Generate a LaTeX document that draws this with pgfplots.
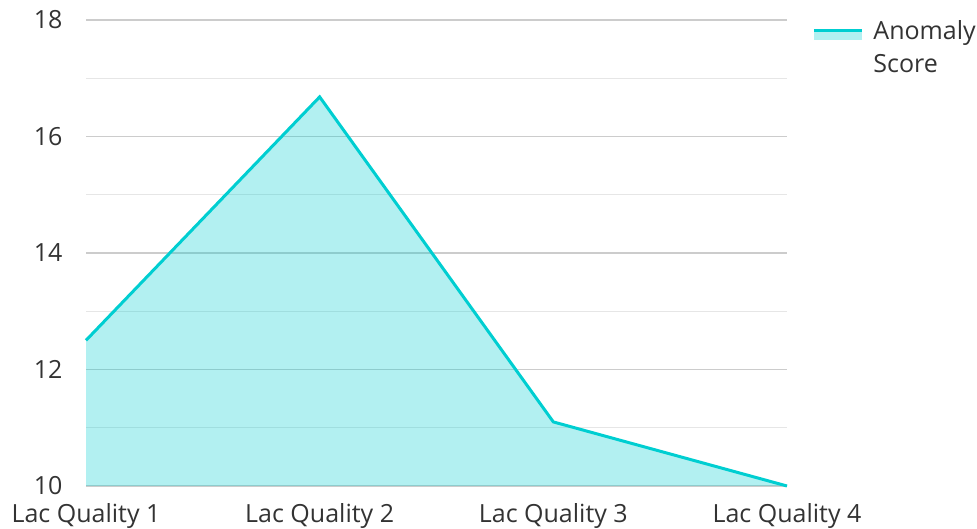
\documentclass[border=0pt]{standalone}
\usepackage{fontspec}
\setmainfont{Open Sans}
\usepackage{pgfplots}
\pgfplotsset{compat=1.18}
\definecolor{lineC}{RGB}{0,206,209}
\definecolor{majgrid}{RGB}{204,204,204}
\definecolor{mingrid}{RGB}{230,230,230}
\definecolor{txt}{RGB}{51,51,51}
\begin{document}
\begin{tikzpicture}
\useasboundingbox (0,0) rectangle (977pt,529pt);
\begin{axis}[
  at={(86pt,43pt)}, anchor=south west,
  scale only axis, width=701pt, height=466pt,
  xmin=0, xmax=3, ymin=10, ymax=18,
  xtick={0,1,2,3},
  xticklabels={Lac Quality 1,Lac Quality 2,Lac Quality 3,Lac Quality 4},
  ytick={10,12,14,16,18},
  minor ytick={11,13,15,17},
  ymajorgrids, yminorgrids,
  major grid style={draw=majgrid, line width=1.2pt},
  minor grid style={draw=mingrid, line width=1.2pt},
  axis line style={draw=none},
  major tick style={draw=none}, minor tick style={draw=none},
  tick label style={font=\fontsize{25}{30}\selectfont, text=txt},
  /pgf/number format/assume math mode=true,
  yticklabel style={xshift=-20pt},
  xticklabel style={yshift=-14pt},
  clip=false,
  legend style={at={(rel axis cs:1.036,1)}, anchor=north west, draw=none, fill=none,
    font=\fontsize{25}{33}\selectfont, text=txt, inner sep=0pt,
    legend cell align=left,
    /tikz/every odd column/.append style={column sep=10pt},
    nodes={align=left, inner sep=0pt, anchor=north west}},
  legend image code/.code={
    \path[fill=lineC, fill opacity=0.3, draw=none] (0pt,-20pt) rectangle (48pt,-10pt);
    \path[draw=lineC, line width=3pt] (0pt,-10pt) -- (48pt,-10pt);
  },
]
\addplot[draw=none, fill=lineC, fill opacity=0.3, forget plot]
  coordinates {(0,12.5) (1,16.68) (2,11.1) (3,10.0)} \closedcycle;
\addplot[draw=lineC, line width=3pt]
  coordinates {(0,12.5) (1,16.68) (2,11.1) (3,10.0)};
\addlegendentry{Anomaly\\Score}
\end{axis}
\end{tikzpicture}
\end{document}
